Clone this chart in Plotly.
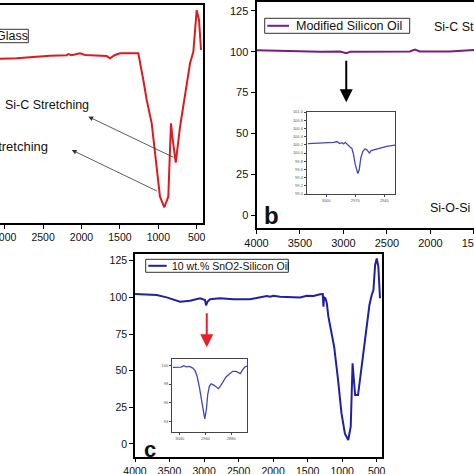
import plotly.graph_objects as go

W = H = 474

# ---------------- data ----------------
# Panel a (Glass)
a_wn = [4000, 3600, 3300, 3061, 2844, 2627, 2410, 2193, 2172, 2128, 2019, 1954, 1802, 1672,
        1629, 1564, 1499, 1281, 1260, 1195, 1151, 1086, 1021, 978, 922, 870, 848, 835, 812,
        773, 717, 652, 587, 544, 522, 500, 470, 444]
a_T = [97.0, 96.4, 95.8, 95.5, 95.8, 96.8, 97.4, 97.7, 98.5, 97.7, 99.0, 97.9, 97.7, 97.2,
       95.8, 97.9, 99.0, 99.4, 99.0, 81.8, 69.0, 54.0, 26.1, 6.9, 0.1, 6.9, 36.9, 54.0, 43.3,
       28.7, 51.8, 73.3, 92.6, 100.0, 111.8, 126.7, 120.4, 101.1]

# Panel b (Modified Silicon Oil)
b_wn = [4000, 3571, 3266, 3037, 2968, 2922, 2541, 2236, 2178, 2121, 1778, 1512, 1450]
b_T = [101.0, 100.2, 100.0, 100.2, 99.2, 100.0, 100.0, 100.2, 101.4, 100.2, 100.2, 101.2, 101.3]

# Panel b inset
bi_wn = [3018.8, 3009.2, 3002.4, 2992.2, 2988.8, 2986.0, 2983.6, 2981.9, 2980.2, 2977.9,
         2975.1, 2973.4, 2971.7, 2970.0, 2968.3, 2967.3, 2965.9, 2964.2, 2962.1, 2959.8,
         2958.1, 2956.4, 2955.3, 2953.6, 2951.9, 2949.5, 2944.4, 2937.6, 2929.0]
bi_T = [100.23, 100.24, 100.24, 100.26, 100.28, 100.23, 100.25, 100.22, 100.26, 100.20,
        100.14, 100.11, 99.96, 99.72, 99.55, 99.50, 99.59, 99.88, 100.04, 100.10,
        100.08, 100.02, 100.00, 100.06, 100.07, 100.08, 100.12, 100.16, 100.19]

# Panel c (10 wt.% SnO2-Silicon Oil)
c_wn = [4000, 3686, 3541, 3348, 3203, 3058, 2986, 2971, 2952, 2913, 2768, 2575, 2333, 2236,
        2140, 2091, 2043, 1996, 1899, 1706, 1609, 1512, 1416, 1319, 1280, 1271, 1261, 1242,
        1222, 1200, 1160, 1115, 1060, 1010, 960, 912, 876, 849, 830, 812, 770, 742, 693, 644,
        605, 572, 547, 523, 499, 476, 452]
c_T = [102.3, 101.6, 100.0, 97.0, 97.7, 99.4, 98.2, 94.6, 97.0, 98.7, 99.4, 98.7, 98.7, 99.4,
       100.4, 100.9, 100.4, 101.1, 100.4, 100.0, 100.0, 101.1, 100.9, 102.1, 102.3, 93.6, 100.0,
       99.4, 96.0, 87.0, 78.0, 66.0, 44.0, 21.0, 7.0, 2.7, 11.8, 55.0, 43.6, 33.4, 33.4, 43.6,
       64.1, 82.3, 94.8, 101.6, 105.0, 122.0, 126.6, 121.0, 99.4]

# Panel c inset
ci_wn = [3061.4, 3045.9, 3035.6, 3027.3, 3020.1, 3009.7, 2999.4, 2992.2, 2986.0, 2978.7,
         2971.5, 2965.3, 2962.2, 2957.0, 2952.9, 2947.7, 2942.5, 2934.3, 2923.9, 2919.8,
         2913.6, 2906.4, 2896.0, 2885.7, 2875.3, 2865.0, 2857.8, 2851.6, 2844.3, 2837.1, 2830.9]
ci_T = [99.79, 99.86, 99.83, 99.97, 99.86, 99.90, 99.72, 99.44, 98.84, 97.61,
        96.02, 94.61, 94.25, 95.31, 96.90, 97.78, 98.03, 97.89, 97.61, 97.50,
        97.78, 98.24, 98.77, 99.09, 99.37, 99.37, 99.23, 99.12, 99.55, 99.86, 99.93]

main_xticks = [4000, 3500, 3000, 2500, 2000, 1500, 1000, 500]
main_yticks = [0, 25, 50, 75, 100, 125]
bi_xticks = [3000, 2970, 2940]
bi_yticks = [99.0, 99.2, 99.4, 99.6, 99.8, 100.0, 100.2, 100.4, 100.6, 100.8, 101.0]
ci_xticks = [3040, 2960, 2880]
ci_yticks = [94, 96, 98, 100]

label_a = "Glass"
label_b = "Modified Silicon Oil"
label_c = "10 wt.% SnO2-Silicon Oil"

# ---------------- helpers ----------------
def px(x):
    return x / W

def py(y):
    return 1 - y / H

FONT = "Liberation Sans, Arial, sans-serif"
RED = "#e0191f"
PURPLE = "#7d1c7d"
BLUE = "#1f1fa8"
INSET = "#4545c2"

fig = go.Figure()
fig.add_trace(go.Scatter(x=a_wn, y=a_T, mode="lines", line=dict(color=RED, width=2),
                         xaxis="x", yaxis="y", showlegend=False))
fig.add_trace(go.Scatter(x=b_wn, y=b_T, mode="lines", line=dict(color=PURPLE, width=2),
                         xaxis="x2", yaxis="y2", showlegend=False))
fig.add_trace(go.Scatter(x=c_wn, y=c_T, mode="lines", line=dict(color=BLUE, width=2),
                         xaxis="x3", yaxis="y3", showlegend=False))
fig.add_trace(go.Scatter(x=bi_wn, y=bi_T, mode="lines", line=dict(color=INSET, width=1.3),
                         xaxis="x4", yaxis="y4", showlegend=False))
fig.add_trace(go.Scatter(x=ci_wn, y=ci_T, mode="lines", line=dict(color=INSET, width=1.3),
                         xaxis="x5", yaxis="y5", showlegend=False))

def f(size, color="#111"):
    return dict(family=FONT, size=size, color=color)

inset_font = f(4, "#555")

def main_axis(**kw):
    d = dict(showgrid=False, zeroline=False, showline=True, linecolor="black",
             ticks="outside", ticklen=4, tickcolor="black", automargin=False)
    d.update(kw)
    return d

def inset_axis(**kw):
    d = dict(mirror=True, showgrid=False, zeroline=False, showline=True, linecolor="#444",
             linewidth=1, ticks="outside", ticklen=2, tickcolor="#444", tickfont=inset_font,
             automargin=False)
    d.update(kw)
    return d

fig.update_layout(
    width=W, height=H, autosize=False,
    margin=dict(l=0, r=0, t=0, b=0, autoexpand=False),
    paper_bgcolor="white", plot_bgcolor="white",
    font=dict(family=FONT),
    # panel a
    xaxis=main_axis(domain=[0, px(202.7)], range=[3061, 422], anchor="y", mirror=True,
                    linewidth=1.5, tickvals=main_xticks, ticklabeloverflow="allow",
                    tickfont=f(10.5)),
    yaxis=main_axis(domain=[py(223), py(5)], range=[-10, 130], anchor="x", side="right",
                    linewidth=1.5, showticklabels=False, ticks=""),
    # panel b
    xaxis2=main_axis(domain=[px(256.5), 1], range=[4000, 1499], anchor="y2", mirror=True,
                     linewidth=2, tickvals=main_xticks, ticklabeloverflow="allow",
                     tickfont=f(11)),
    yaxis2=main_axis(domain=[py(228), py(2)], range=[-7.9, 130.5], anchor="x2",
                     linewidth=2, tickvals=main_yticks, tickfont=f(11)),
    # panel c
    xaxis3=main_axis(domain=[px(135), px(382)], range=[4000, 423], anchor="y3", mirror=True,
                     linewidth=1.5, tickvals=main_xticks, ticklen=3,
                     ticklabeloverflow="allow", tickfont=f(10.5)),
    yaxis3=main_axis(domain=[py(457.3), py(254)], range=[-9.1, 129.6], anchor="x3",
                     mirror=True, linewidth=1.5, tickvals=main_yticks, tickfont=f(10.5)),
    # inset b
    xaxis4=inset_axis(domain=[px(306.7), px(395)], range=[3020, 2929], anchor="y4",
                      tickvals=bi_xticks),
    yaxis4=inset_axis(domain=[py(194), py(112)], range=[99.0, 101.0], anchor="x4",
                      tickvals=bi_yticks, tickformat=".1f"),
    # inset c
    xaxis5=inset_axis(domain=[px(172), px(247.3)], range=[3064, 2830], anchor="y5",
                      tickvals=ci_xticks),
    yaxis5=inset_axis(domain=[py(432.3), py(359)], range=[92.8, 100.7], anchor="x5",
                      tickvals=ci_yticks),
)

shapes = []
annotations = []

def legend_box(x0, y0, x1, y1, color, lx0, lx1, text, tx, size):
    ym = (y0 + y1) / 2
    shapes.append(dict(type="rect", xref="paper", yref="paper", x0=px(x0), x1=px(x1),
                       y0=py(y1), y1=py(y0), line=dict(color="#333", width=1),
                       fillcolor="white"))
    shapes.append(dict(type="line", xref="paper", yref="paper", x0=px(lx0), x1=px(lx1),
                       y0=py(ym), y1=py(ym), line=dict(color=color, width=2)))
    annotations.append(dict(xref="paper", yref="paper", x=px(tx), y=py(ym), text=text,
                            showarrow=False, xanchor="left", yanchor="middle",
                            font=f(size)))

legend_box(-30, 29.3, 28.3, 42.7, RED, -28, -12, label_a, -6, 12.5)
legend_box(264.7, 18.3, 409.7, 33.3, PURPLE, 267.3, 289, label_b, 294, 12.5)
legend_box(145.7, 259.3, 288.3, 272.3, BLUE, 148.3, 166.7, label_c, 169.5, 10.5)

def text(xp, yp, s, anchor="left", size=12.5, bold=False):
    annotations.append(dict(xref="paper", yref="paper", x=px(xp), y=py(yp),
                            text=f"<b>{s}</b>" if bold else s, showarrow=False,
                            xanchor=anchor, yanchor="middle", font=f(size)))

text(2.5, 105, "Si-C Stretching")
text(50, 146.7, "Si-O-Si Stretching", anchor="right", size=13)
text(431.5, 26.7, "Si-C Stretching")
text(428, 208.3, "Si-O-Si Stretching")
text(262, 215, "b", size=24, bold=True)
text(142, 449, "c", size=22, bold=True)

# arrows (head at x,y ; tail at ax,ay)
annotations.append(dict(xref="x", yref="y", axref="x", ayref="y", x=1911, y=58.3,
                        ax=783, ay=31.7, text="", showarrow=True, arrowhead=2,
                        arrowsize=1.2, arrowwidth=0.8, arrowcolor="#333"))
annotations.append(dict(xref="x", yref="y", axref="x", ayref="y", x=2127, y=36.9,
                        ax=1000, ay=10.1, text="", showarrow=True, arrowhead=2,
                        arrowsize=1.2, arrowwidth=0.8, arrowcolor="#333"))
annotations.append(dict(xref="x2", yref="y2", axref="x2", ayref="y2", x=2968, y=69.1,
                        ax=2968, ay=95.5, text="", showarrow=True, arrowhead=2,
                        arrowsize=1.3, arrowwidth=2, arrowcolor="black"))
annotations.append(dict(xref="x3", yref="y3", axref="x3", ayref="y3", x=2961, y=65.9,
                        ax=2961, ay=90.2, text="", showarrow=True, arrowhead=2,
                        arrowsize=1.3, arrowwidth=2, arrowcolor="#e8202a"))

fig.update_layout(shapes=shapes, annotations=annotations)
fig.write_html("out.html")
